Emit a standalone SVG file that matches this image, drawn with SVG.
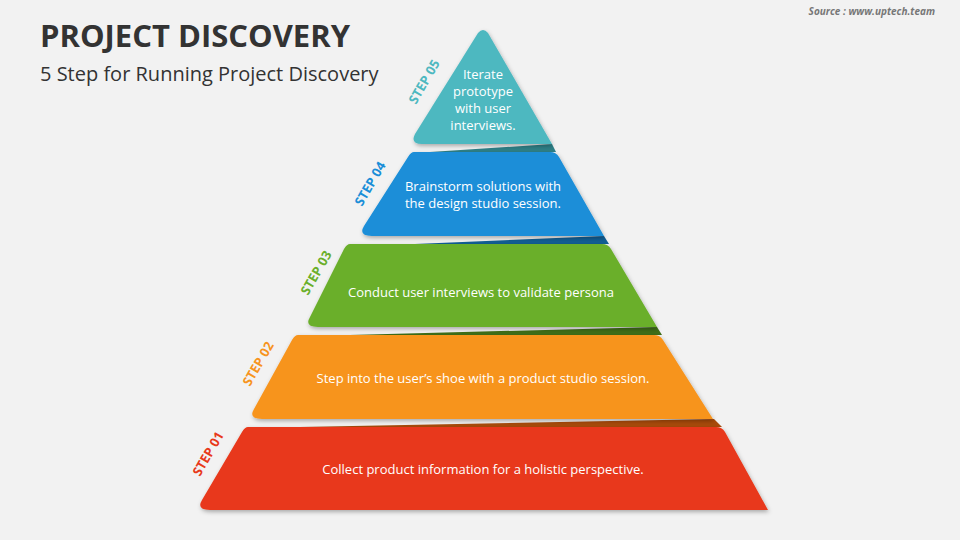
<svg xmlns="http://www.w3.org/2000/svg" width="960" height="540" viewBox="0 0 960 540">
<defs>
<filter id="sh" x="-10%" y="-10%" width="120%" height="130%"><feDropShadow dx="1" dy="2" stdDeviation="2" flood-color="#000" flood-opacity="0.3"/></filter>
<style>
.t{font-family:"Open Sans","Liberation Sans",sans-serif;font-size:13px;fill:#fff;text-anchor:middle}
.s{font-family:"Open Sans","Liberation Sans",sans-serif;font-size:13px;font-weight:bold;text-anchor:middle}
</style>
</defs>
<rect width="960" height="540" fill="#F2F2F2"/>
<text x="40" y="47" font-family="Open Sans,Liberation Sans,sans-serif" font-size="31" font-weight="bold" fill="#333">PROJECT DISCOVERY</text>
<text x="40" y="81" font-family="Open Sans,Liberation Sans,sans-serif" font-size="20" fill="#333">5 Step for Running Project Discovery</text>
<text x="935" y="15" text-anchor="end" font-family="Open Sans,Liberation Sans,sans-serif" font-size="10" font-style="italic" font-weight="bold" fill="#777">Source : www.uptech.team</text>
<g id="connectors">
<polygon points="300,427 714,419 722,427" fill="#A84A0A"/>
<polygon points="350,335 657,327 662,335" fill="#3F6E18"/>
<polygon points="415,244 604,236 609,244" fill="#115E93"/>
<polygon points="430,152 552,144 556,152" fill="#2E7F86"/>
</g>
<g id="step01">
<path d="M248,427 L716,427 Q722,427 725,432 L768,510 L210,510 Q196,510 202,500 L242,432 Q245,427 248,427Z" fill="#E8391A" filter="url(#sh)"/>
<text class="t" x="483" y="474">Collect product information for a holistic perspective.</text>
<text class="s" fill="#E8391A" transform="translate(212,456) rotate(-60)">STEP 01</text>
</g>
<g id="step02">
<path d="M298,335 L654,335 Q660,335 663,340 L713,419 L262,419 Q248,419 254,409 L292,340 Q295,335 298,335Z" fill="#F7941E" filter="url(#sh)"/>
<text class="t" x="483" y="383">Step into the user’s shoe with a product studio session.</text>
<text class="s" fill="#F7941E" transform="translate(262,366) rotate(-60)">STEP 02</text>
</g>
<g id="step03">
<path d="M350,244 L602,244 Q608,244 611,249 L657,327 L318,327 Q304,327 310,317 L344,249 Q347,244 350,244Z" fill="#6AAF2A" filter="url(#sh)"/>
<text class="t" x="481" y="297">Conduct user interviews to validate persona</text>
<text class="s" fill="#6AAF2A" transform="translate(320,275) rotate(-60)">STEP 03</text>
</g>
<g id="step04">
<path d="M414,152 L550,152 Q556,152 559,157 L604,236 L372,236 Q358,236 364,226 L408,157 Q411,152 414,152Z" fill="#1A8ED8" filter="url(#sh)"/>
<text class="t" x="483" y="191">Brainstorm solutions with</text>
<text class="t" x="483" y="208">the design studio session.</text>
<text class="s" fill="#1A8ED8" transform="translate(374,186) rotate(-60)">STEP 04</text>
</g>
<g id="step05">
<path d="M478,33 Q483,27 488,33 L552,144 L422,144 Q410,144 415,134 Z" fill="#4DB8C0" filter="url(#sh)"/>
<text class="t" x="483" y="79">Iterate</text>
<text class="t" x="483" y="96">prototype</text>
<text class="t" x="483" y="113">with user</text>
<text class="t" x="483" y="130">interviews.</text>
<text class="s" fill="#4DB8C0" transform="translate(428,84) rotate(-60)">STEP 05</text>
</g>
</svg>
